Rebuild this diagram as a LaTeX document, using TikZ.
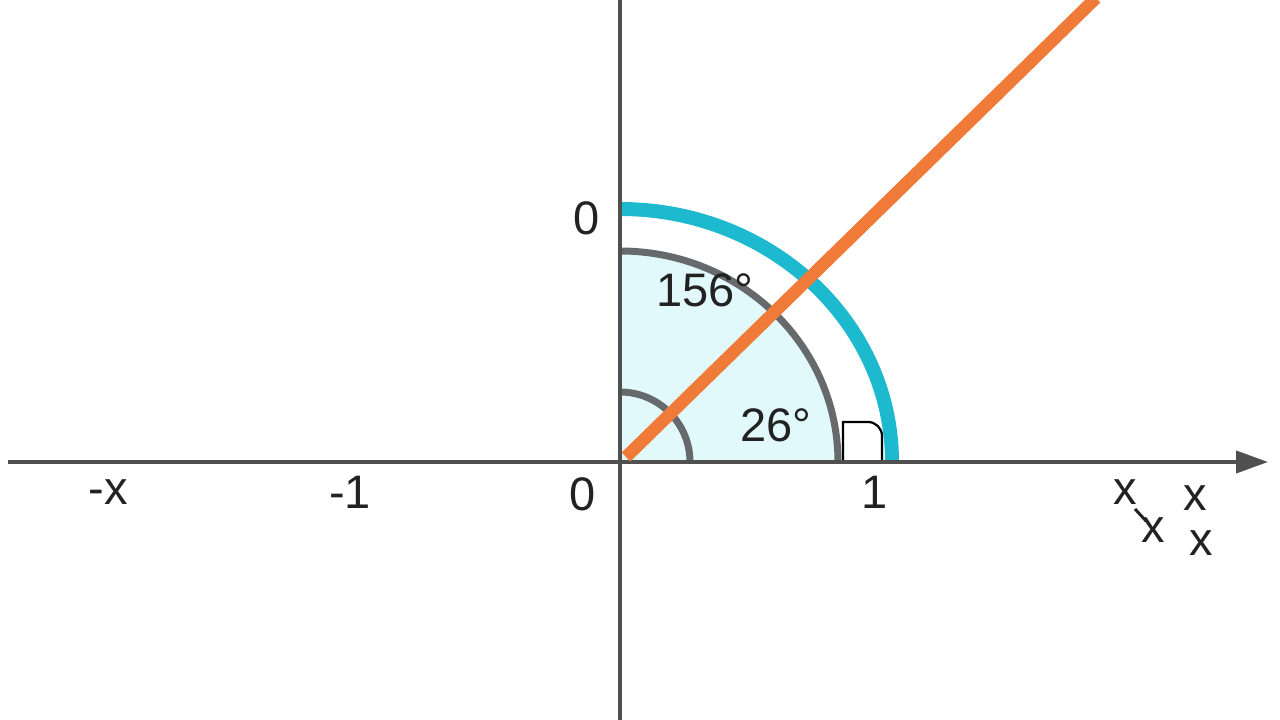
\documentclass[tikz,border=0pt]{standalone}
\usepackage{fontspec}
\setmainfont{Liberation Sans}
\usetikzlibrary{arrows.meta}
\definecolor{axisgrey}{HTML}{505050}
\definecolor{arcgrey}{HTML}{666A6C}
\definecolor{orangeline}{HTML}{F07A38}
\definecolor{cyanarc}{HTML}{1DB9CF}
\definecolor{lightfill}{HTML}{E2F9FB}
\definecolor{labeltext}{HTML}{222222}
\tikzset{
  lbl/.style={inner sep=0pt, text=labeltext, font=\fontsize{47}{50}\selectfont},
  axisline/.style={draw=axisgrey, line width=4pt},
  greyarc/.style={draw=arcgrey, line width=7pt},
}
\begin{document}
\begin{tikzpicture}[x=1pt,y=1pt]
\useasboundingbox (0,0) rectangle (1280,720);
\fill[white] (0,0) rectangle (1280,720);
\coordinate (O) at (620,258);
\coordinate (xl) at (8,258);
\coordinate (xr) at (1268,258);
\coordinate (yb) at (620,0);
\coordinate (yt) at (620,720);
\coordinate (os) at (626,263);
\coordinate (oe) at (1096,722);
% fill
\fill[lightfill] (O) -- (838,258) arc[start angle=0,end angle=90,x radius=218pt,y radius=211pt] -- cycle;
% grey arcs
\draw[greyarc] (838,258) arc[start angle=0,end angle=90,x radius=218pt,y radius=211pt];
\draw[greyarc] (690,258) arc[start angle=0,end angle=90,x radius=70pt,y radius=70pt];
% cyan arc
\draw[draw=cyanarc, line width=14pt] (892,258) arc[start angle=0,end angle=90,x radius=272pt,y radius=253pt];
% right angle mark
\draw[black, line width=2.2pt] (843,258) -- (843,298) -- (868,298) arc[start angle=90,end angle=0,radius=14pt] -- (882,258);
% axes
\draw[axisline, -{Triangle[length=32pt,width=22pt]}] (xl) -- (xr);
\draw[axisline] (yb) -- (yt);
% orange line
\draw[draw=orangeline, line width=12.5pt] (os) -- (oe);
% labels
\node[lbl] (ly0) at (587,502) {0};
\node[lbl] (l156) at (705,430) {156°};
\node[lbl] (l26) at (776,295) {26°};
\node[lbl] (lmx) at (108,228) {-x};
\node[lbl] (lm1) at (350,228) {-1};
\node[lbl] (lx0) at (583,226) {0};
\node[lbl] (l1) at (875,228) {1};
\node[lbl] (lxa) at (1125,228) {x};
\node[lbl] (lxb) at (1153,190) {x};
\node[lbl] (lxc) at (1195,222) {x};
\node[lbl] (lxd) at (1201,177) {x};
\coordinate (s1) at (1135,211);
\coordinate (s2) at (1146,199);
\draw[labeltext, line width=3pt] (s1) -- (s2);
\end{tikzpicture}
\end{document}
